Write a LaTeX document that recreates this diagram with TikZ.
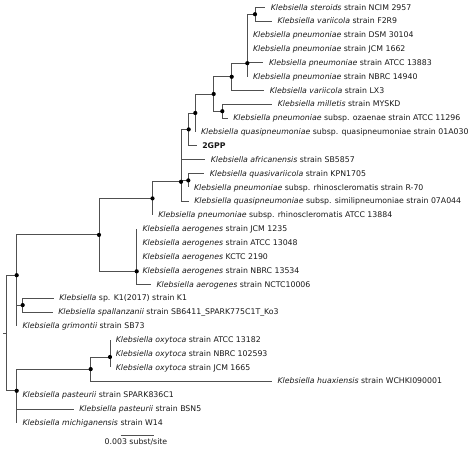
\documentclass[tikz,border=0pt]{standalone}
\usepackage{fontspec}
\setmainfont{DejaVu Sans}
\definecolor{edge}{RGB}{80,80,80}
\definecolor{txt}{RGB}{25,25,25}
\begin{document}
\begin{tikzpicture}[x=1pt,y=-1pt,
  leaf/.style={anchor=mid west,inner xsep=5.6pt,inner ysep=0pt,font=\fontsize{7.8}{9}\selectfont,text=txt},
  br/.style={draw=edge,line width=0.9pt},
  dot/.style={fill=black}]
\useasboundingbox (0,0) rectangle (474,449);
% internal nodes
\coordinate (A) at (255,14.2);
\coordinate (B) at (247.3,63.2);
\coordinate (C) at (231.7,76.8);
\coordinate (E) at (222.3,111.2);
\coordinate (D) at (213.7,94.0);
\coordinate (F) at (195.3,113.0);
\coordinate (G) at (188.7,129.4);
\coordinate (I) at (188.3,180.4);
\coordinate (H) at (181,181.8);
\coordinate (J) at (152.5,198.4);
\coordinate (L) at (136.7,271.3);
\coordinate (K) at (99,234.9);
\coordinate (N) at (22.7,305.1);
\coordinate (M) at (16.7,275.2);
\coordinate (Q) at (110,357.0);
\coordinate (P) at (90.7,369.1);
\coordinate (O) at (16.7,390.8);
\coordinate (R) at (6,333);
\coordinate (R0) at (3,333);
% leaves
\node[leaf] (l0) at (265,7.3) {\textit{Klebsiella steroids} strain NCIM 2957};
\node[leaf] (l1) at (271.7,21.15) {\textit{Klebsiella variicola} strain F2R9};
\node[leaf] (l2) at (247.3,35.0) {\textit{Klebsiella pneumoniae} strain DSM 30104};
\node[leaf] (l3) at (247.3,48.85) {\textit{Klebsiella pneumoniae} strain JCM 1662};
\node[leaf] (l4) at (263.3,62.7) {\textit{Klebsiella pneumoniae} strain ATCC 13883};
\node[leaf] (l5) at (247.3,76.55) {\textit{Klebsiella pneumoniae} strain NBRC 14940};
\node[leaf] (l6) at (264,90.4) {\textit{Klebsiella variicola} strain LX3};
\node[leaf] (l7) at (272,104.25) {\textit{Klebsiella milletis} strain MYSKD};
\node[leaf] (l8) at (227.5,118.1) {\textit{Klebsiella pneumoniae} subsp. ozaenae strain ATCC 11296};
\node[leaf] (l9) at (195.3,131.95) {\textit{Klebsiella quasipneumoniae} subsp. quasipneumoniae strain 01A030};
\node[leaf,font=\fontsize{7.8}{9}\selectfont\bfseries] (l10) at (196.5,145.8) {2GPP};
\node[leaf] (l11) at (205,159.65) {\textit{Klebsiella africanensis} strain SB5857};
\node[leaf] (l12) at (204,173.5) {\textit{Klebsiella quasivariicola} strain KPN1705};
\node[leaf] (l13) at (188.3,187.35) {\textit{Klebsiella pneumoniae} subsp. rhinoscleromatis strain R-70};
\node[leaf] (l14) at (188.5,201.2) {\textit{Klebsiella quasipneumoniae} subsp. similipneumoniae strain 07A044};
\node[leaf] (l15) at (152.5,215.05) {\textit{Klebsiella pneumoniae} subsp. rhinoscleromatis ATCC 13884};
\node[leaf] (l16) at (136.7,228.9) {\textit{Klebsiella aerogenes} strain JCM 1235};
\node[leaf] (l17) at (136.7,242.75) {\textit{Klebsiella aerogenes} strain ATCC 13048};
\node[leaf] (l18) at (136.7,256.6) {\textit{Klebsiella aerogenes} KCTC 2190};
\node[leaf] (l19) at (136.7,270.45) {\textit{Klebsiella aerogenes} strain NBRC 13534};
\node[leaf] (l20) at (150.8,284.3) {\textit{Klebsiella aerogenes} strain NCTC10006};
\node[leaf] (l21) at (53.5,298.15) {\textit{Klebsiella} sp. K1(2017) strain K1};
\node[leaf] (l22) at (52.5,312.0) {\textit{Klebsiella spallanzanii} strain SB6411\_SPARK775C1T\_Ko3};
\node[leaf] (l23) at (16.7,325.85) {\textit{Klebsiella grimontii} strain SB73};
\node[leaf] (l24) at (110,339.7) {\textit{Klebsiella oxytoca} strain ATCC 13182};
\node[leaf] (l25) at (110,353.55) {\textit{Klebsiella oxytoca} strain NBRC 102593};
\node[leaf] (l26) at (110,367.4) {\textit{Klebsiella oxytoca} strain JCM 1665};
\node[leaf] (l27) at (271.7,381.25) {\textit{Klebsiella huaxiensis} strain WCHKI090001};
\node[leaf] (l28) at (16.7,395.1) {\textit{Klebsiella pasteurii} strain SPARK836C1};
\node[leaf] (l29) at (73.5,408.95) {\textit{Klebsiella pasteurii} strain BSN5};
\node[leaf] (l30) at (16.7,422.8) {\textit{Klebsiella michiganensis} strain W14};
% branches
\draw[br] (A) |- (l0.mid west); \draw[br] (A) |- (l1.mid west);
\draw[br] (B) |- (A);
\foreach \i in {2,3,4,5} {\draw[br] (B) |- (l\i.mid west);}
\draw[br] (C) |- (B); \draw[br] (C) |- (l6.mid west);
\draw[br] (E) |- (l7.mid west); \draw[br] (E) |- (l8.mid west);
\draw[br] (D) |- (C); \draw[br] (D) |- (E);
\draw[br] (F) |- (D); \draw[br] (F) |- (l9.mid west);
\draw[br] (G) |- (F); \draw[br] (G) |- (l10.mid west);
\draw[br] (I) |- (l12.mid west); \draw[br] (I) |- (l13.mid west);
\draw[br] (H) |- (G); \draw[br] (H) |- (l11.mid west); \draw[br] (H) |- (I); \draw[br] (H) |- (l14.mid west);
\draw[br] (J) |- (H); \draw[br] (J) |- (l15.mid west);
\foreach \i in {16,17,18,19,20} {\draw[br] (L) |- (l\i.mid west);}
\draw[br] (K) |- (J); \draw[br] (K) |- (L);
\draw[br] (N) |- (l21.mid west); \draw[br] (N) |- (l22.mid west);
\draw[br] (M) |- (K); \draw[br] (M) |- (N); \draw[br] (M) |- (l23.mid west);
\foreach \i in {24,25,26} {\draw[br] (Q) |- (l\i.mid west);}
\draw[br] (P) |- (Q); \draw[br] (P) |- (l27.mid west);
\draw[br] (O) |- (P);
\foreach \i in {28,29,30} {\draw[br] (O) |- (l\i.mid west);}
\draw[br] (R) |- (M); \draw[br] (R) |- (O); \draw[br] (R0) -- (R);
% dots
\foreach \n in {A,B,C,D,E,F,G,H,I,J,K,L,M,N,O,P,Q} {\fill[dot] (\n) circle (2.1);}
% scale bar
\coordinate (s1) at (120.7,435.3);
\coordinate (s2) at (154,435.3);
\draw[br] (s1) -- (s2);
\node[font=\fontsize{7.8}{9}\selectfont,text=txt,inner sep=0pt,anchor=mid] (sb) at (136,442) {0.003 subst/site};
\end{tikzpicture}
\end{document}
